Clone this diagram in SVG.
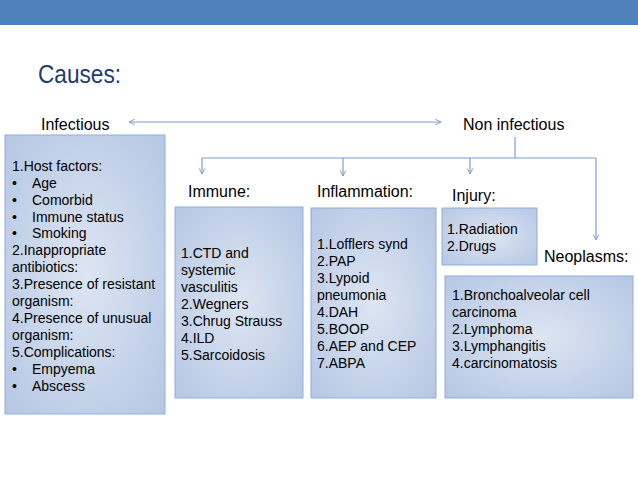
<svg xmlns="http://www.w3.org/2000/svg" width="638" height="478" viewBox="0 0 638 478">
<style>
text{font-family:"Liberation Sans",Arial,sans-serif;fill:#000}
.t{font-size:14px}
.lab{font-size:16px}
.box{fill:url(#g);stroke:#94ACD6;stroke-width:1}
.con{fill:none;stroke:#7E9ECE;stroke-width:1.2}
</style>
<defs>
<radialGradient id="g" cx="0.5" cy="0.5" r="0.7">
<stop offset="0" stop-color="#DDE5F2"/>
<stop offset="1" stop-color="#B5C7E4"/>
</radialGradient>
<marker id="a" viewBox="0 0 10 10" refX="9" refY="5" markerWidth="7" markerHeight="7" orient="auto-start-reverse" markerUnits="userSpaceOnUse">
<path d="M1,1 L9,5 L1,9" fill="none" stroke="#7E9ECE" stroke-width="1.4"/>
</marker>
</defs>
<rect width="638" height="478" fill="#fff"/>
<rect x="0" y="0" width="638" height="25" fill="#4F81BD"/>
<text x="38" y="83" style="font-size:25px;fill:#1F3C6E" textLength="83" lengthAdjust="spacingAndGlyphs">Causes:</text>
<g id="infectious-label"><text class="lab" x="41" y="130">Infectious</text></g>
<g id="noninfectious-label"><text class="lab" x="463" y="130">Non infectious</text></g>
<g id="connectors">
<line class="con" x1="129" y1="122" x2="441" y2="122" marker-start="url(#a)" marker-end="url(#a)"/>
<line class="con" x1="515" y1="137" x2="515" y2="158"/>
<line class="con" x1="202" y1="158" x2="596" y2="158"/>
<line class="con" x1="202" y1="158" x2="202" y2="174" marker-end="url(#a)"/>
<line class="con" x1="343" y1="158" x2="343" y2="176" marker-end="url(#a)"/>
<line class="con" x1="470" y1="158" x2="470" y2="174" marker-end="url(#a)"/>
<line class="con" x1="596" y1="158" x2="596" y2="240" marker-end="url(#a)"/>
</g>
<g id="infectious-box">
<rect class="box" x="5" y="135" width="160" height="279"/>
<text class="t" x="12" y="171">1.Host factors:</text>
<text class="t" x="12" y="188">•</text><text class="t" x="32" y="188">Age</text>
<text class="t" x="12" y="205">•</text><text class="t" x="32" y="205">Comorbid</text>
<text class="t" x="12" y="222">•</text><text class="t" x="32" y="222">Immune status</text>
<text class="t" x="12" y="238">•</text><text class="t" x="32" y="238">Smoking</text>
<text class="t" x="12" y="255">2.Inappropriate</text>
<text class="t" x="12" y="272">antibiotics:</text>
<text class="t" x="12" y="289">3.Presence of resistant</text>
<text class="t" x="12" y="306">organism:</text>
<text class="t" x="12" y="323">4.Presence of unusual</text>
<text class="t" x="12" y="340">organism:</text>
<text class="t" x="12" y="357">5.Complications:</text>
<text class="t" x="12" y="374">•</text><text class="t" x="32" y="374">Empyema</text>
<text class="t" x="12" y="391">•</text><text class="t" x="32" y="391">Abscess</text>
</g>
<g id="immune">
<text class="lab" x="188" y="197">Immune:</text>
<rect class="box" x="175" y="207" width="128" height="191"/>
<text class="t" x="181" y="258">1.CTD and</text>
<text class="t" x="181" y="275">systemic</text>
<text class="t" x="181" y="292">vasculitis</text>
<text class="t" x="181" y="309">2.Wegners</text>
<text class="t" x="181" y="326">3.Chrug Strauss</text>
<text class="t" x="181" y="343">4.ILD</text>
<text class="t" x="181" y="360">5.Sarcoidosis</text>
</g>
<g id="inflammation">
<text class="lab" x="317" y="197">Inflammation:</text>
<rect class="box" x="311" y="208" width="125" height="190"/>
<text class="t" x="317" y="249">1.Lofflers synd</text>
<text class="t" x="317" y="266">2.PAP</text>
<text class="t" x="317" y="283">3.Lypoid</text>
<text class="t" x="317" y="300">pneumonia</text>
<text class="t" x="317" y="317">4.DAH</text>
<text class="t" x="317" y="334">5.BOOP</text>
<text class="t" x="317" y="351">6.AEP and CEP</text>
<text class="t" x="317" y="368">7.ABPA</text>
</g>
<g id="injury">
<text class="lab" x="452" y="201">Injury:</text>
<rect class="box" x="442" y="208" width="95" height="57"/>
<text class="t" x="447" y="234">1.Radiation</text>
<text class="t" x="447" y="251">2.Drugs</text>
</g>
<g id="neoplasms">
<text class="lab" x="544" y="262">Neoplasms:</text>
<rect class="box" x="445" y="276" width="188" height="122"/>
<text class="t" x="452" y="300">1.Bronchoalveolar cell</text>
<text class="t" x="452" y="317">carcinoma</text>
<text class="t" x="452" y="334">2.Lymphoma</text>
<text class="t" x="452" y="351">3.Lymphangitis</text>
<text class="t" x="452" y="368">4.carcinomatosis</text>
</g>
</svg>
